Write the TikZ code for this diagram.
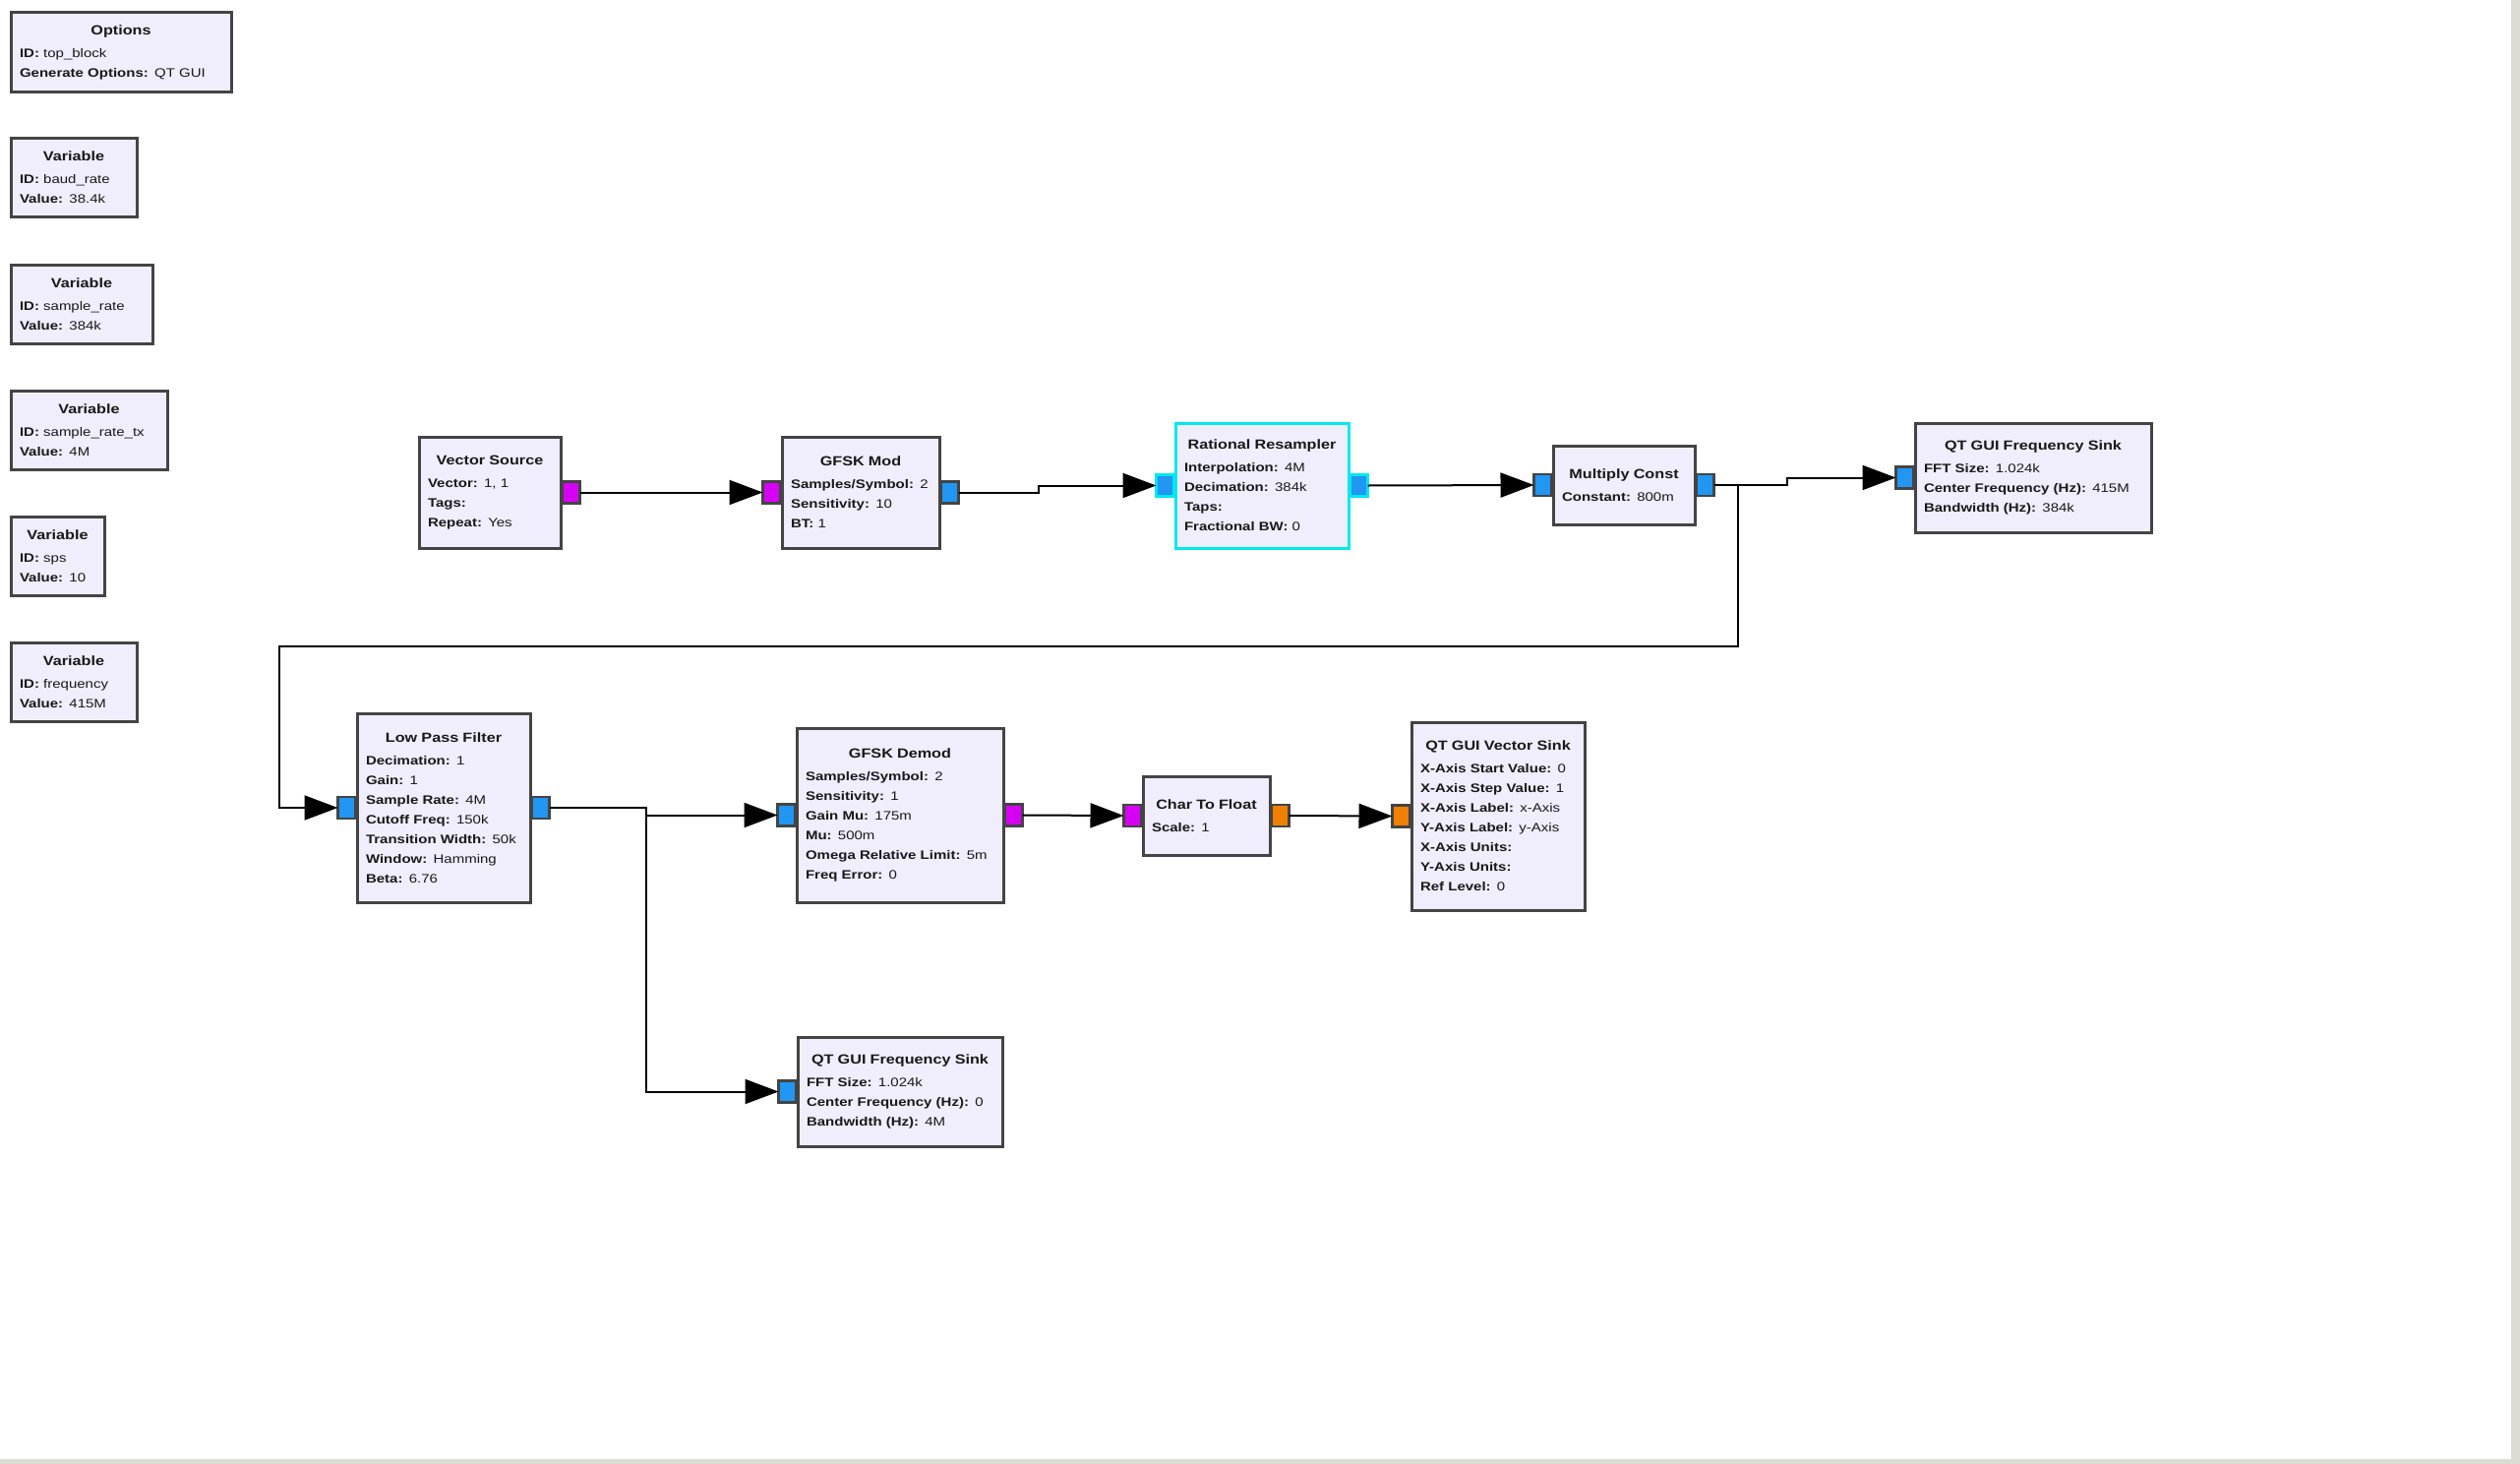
\documentclass[tikz,border=0pt]{standalone}
\usepackage{fontspec}
\setmainfont{Liberation Sans}[FakeStretch=1.2]
\usepackage{tikz}
\usetikzlibrary{arrows.meta}

\definecolor{blkfill}{RGB}{240,237,253}
\definecolor{bord}{RGB}{68,68,68}
\definecolor{selcyan}{RGB}{0,232,238}
\definecolor{pblue}{RGB}{33,150,243}
\definecolor{pmag}{RGB}{214,0,245}
\definecolor{porange}{RGB}{240,128,0}
\definecolor{winframe}{RGB}{220,220,212}
\definecolor{txt}{RGB}{25,25,25}

\newcommand{\blocktitle}[1]{{\centering\fontsize{13.5}{20}\selectfont\bfseries #1\par}\vspace{3pt}}

\tikzset{
    blk/.style={draw=bord, fill=blkfill, line width=3pt, rectangle, inner xsep=9pt, inner ysep=0pt,
        text=txt, font=\fontsize{12.5}{20}\selectfont},
    port/.style={draw=bord, line width=2.5pt, minimum width=18pt, minimum height=22pt, inner sep=0pt, outer sep=0pt},
    wire/.style={draw=black, line width=2pt, -{Triangle[length=34pt,width=25pt]}}
}

\begin{document}
\begin{tikzpicture}[x=1pt,y=-1pt]
    \useasboundingbox (0,0) rectangle (2562,1488);
    \fill[white] (0,0) rectangle (2562,1488);
    \fill[winframe] (2553,0) rectangle (2562,1488);
    \fill[winframe] (0,1483) rectangle (2562,1488);

    \node[blk, minimum width=224pt, minimum height=80pt, text width=206pt] (opt) at (123,53)
        {\blocktitle{Options}\textbf{ID:} top\_block\\ \textbf{Generate Options:} QT GUI};
    \node[blk, minimum width=128pt, minimum height=80pt, text width=110pt] (var1) at (75,180)
        {\blocktitle{Variable}\textbf{ID:} baud\_rate\\ \textbf{Value:} 38.4k};
    \node[blk, minimum width=144pt, minimum height=80pt, text width=126pt] (var2) at (83,309)
        {\blocktitle{Variable}\textbf{ID:} sample\_rate\\ \textbf{Value:} 384k};
    \node[blk, minimum width=159pt, minimum height=80pt, text width=141pt] (var3) at (90.5,437)
        {\blocktitle{Variable}\textbf{ID:} sample\_rate\_tx\\ \textbf{Value:} 4M};
    \node[blk, minimum width=95pt, minimum height=80pt, text width=77pt] (var4) at (58.5,565.5)
        {\blocktitle{Variable}\textbf{ID:} sps\\ \textbf{Value:} 10};
    \node[blk, minimum width=128pt, minimum height=80pt, text width=110pt] (var5) at (75,693)
        {\blocktitle{Variable}\textbf{ID:} frequency\\ \textbf{Value:} 415M};

    \node[blk, minimum width=144pt, minimum height=113pt, text width=126pt] (vs) at (498,500.5)
        {\blocktitle{Vector Source}\textbf{Vector:} 1, 1\\ \textbf{Tags:}\\ \textbf{Repeat:} Yes};
    \node[blk, minimum width=160pt, minimum height=113pt, text width=142pt] (mod) at (875,500.5)
        {\blocktitle{GFSK Mod}\textbf{Samples/Symbol:} 2\\ \textbf{Sensitivity:} 10\\ \textbf{BT:} 1};
    \node[blk, draw=selcyan, minimum width=176pt, minimum height=127pt, text width=158pt] (rr) at (1283,493.5)
        {\blocktitle{Rational Resampler}\textbf{Interpolation:} 4M\\ \textbf{Decimation:} 384k\\ \textbf{Taps:}\\ \textbf{Fractional BW:} 0};
    \node[blk, minimum width=144pt, minimum height=80pt, text width=126pt] (mul) at (1651,493)
        {\blocktitle{Multiply Const}\textbf{Constant:} 800m};
    \node[blk, minimum width=240pt, minimum height=111pt, text width=222pt] (fsink1) at (2067,485.5)
        {\blocktitle{QT GUI Frequency Sink}\textbf{FFT Size:} 1.024k\\ \textbf{Center Frequency (Hz):} 415M\\ \textbf{Bandwidth (Hz):} 384k};

    \node[blk, minimum width=176pt, minimum height=192pt, text width=158pt] (lpf) at (451,821)
        {\blocktitle{Low Pass Filter}\textbf{Decimation:} 1\\ \textbf{Gain:} 1\\ \textbf{Sample Rate:} 4M\\ \textbf{Cutoff Freq:} 150k\\
        \textbf{Transition Width:} 50k\\ \textbf{Window:} Hamming\\ \textbf{Beta:} 6.76};
    \node[blk, minimum width=210pt, minimum height=177pt, text width=192pt] (demod) at (915,828.5)
        {\blocktitle{GFSK Demod}\textbf{Samples/Symbol:} 2\\ \textbf{Sensitivity:} 1\\ \textbf{Gain Mu:} 175m\\ \textbf{Mu:} 500m\\
        \textbf{Omega Relative Limit:} 5m\\ \textbf{Freq Error:} 0};
    \node[blk, minimum width=129pt, minimum height=80pt, text width=111pt] (ctf) at (1226.5,829)
        {\blocktitle{Char To Float}\textbf{Scale:} 1};
    \node[blk, minimum width=176pt, minimum height=191pt, text width=158pt] (vsink) at (1523,829.5)
        {\blocktitle{QT GUI Vector Sink}\textbf{X-Axis Start Value:} 0\\ \textbf{X-Axis Step Value:} 1\\ \textbf{X-Axis Label:} x-Axis\\
        \textbf{Y-Axis Label:} y-Axis\\ \textbf{X-Axis Units:}\\ \textbf{Y-Axis Units:}\\ \textbf{Ref Level:} 0};
    \node[blk, minimum width=208pt, minimum height=111pt, text width=190pt] (fsink2) at (915,1109.5)
        {\blocktitle{QT GUI Frequency Sink}\textbf{FFT Size:} 1.024k\\ \textbf{Center Frequency (Hz):} 0\\ \textbf{Bandwidth (Hz):} 4M};

    \node[port, fill=pmag, anchor=west] (vs-out) at (vs.east) {};
    \node[port, fill=pmag, anchor=east] (mod-in) at (mod.west) {};
    \node[port, fill=pblue, anchor=west] (mod-out) at (mod.east) {};
    \node[port, fill=pblue, draw=selcyan, anchor=east] (rr-in) at (rr.west) {};
    \node[port, fill=pblue, draw=selcyan, anchor=west] (rr-out) at (rr.east) {};
    \node[port, fill=pblue, anchor=east] (mul-in) at (mul.west) {};
    \node[port, fill=pblue, anchor=west] (mul-out) at (mul.east) {};
    \node[port, fill=pblue, anchor=east] (fsink1-in) at (fsink1.west) {};
    \node[port, fill=pblue, anchor=east] (lpf-in) at (lpf.west) {};
    \node[port, fill=pblue, anchor=west] (lpf-out) at (lpf.east) {};
    \node[port, fill=pblue, anchor=east] (demod-in) at (demod.west) {};
    \node[port, fill=pmag, anchor=west] (demod-out) at (demod.east) {};
    \node[port, fill=pmag, anchor=east] (ctf-in) at (ctf.west) {};
    \node[port, fill=porange, anchor=west] (ctf-out) at (ctf.east) {};
    \node[port, fill=porange, anchor=east] (vsink-in) at (vsink.west) {};
    \node[port, fill=pblue, anchor=east] (fsink2-in) at (fsink2.west) {};

    \coordinate (jog1) at (1056,0);
    \coordinate (jog2) at (1817,0);
    \coordinate (jog3) at (1767,0);
    \coordinate (loop) at (284,657);
    \coordinate (jog4) at (657,0);

    \draw[wire] (vs-out.east) -- (mod-in.west);
    \draw[wire] (mod-out.east) -- (mod-out.east -| jog1) |- (rr-in.west);
    \draw[wire] (rr-out.east) -- (mul-in.west);
    \draw[wire] (mul-out.east) -- (mul-out.east -| jog2) |- (fsink1-in.west);
    \draw[wire] (mul-out.east) -- (mul-out.east -| jog3) |- (loop) |- (lpf-in.west);
    \draw[wire] (lpf-out.east) -- (lpf-out.east -| jog4) |- (demod-in.west);
    \draw[wire] (lpf-out.east) -- (lpf-out.east -| jog4) |- (fsink2-in.west);
    \draw[wire] (demod-out.east) -- (ctf-in.west);
    \draw[wire] (ctf-out.east) -- (vsink-in.west);
\end{tikzpicture}
\end{document}
